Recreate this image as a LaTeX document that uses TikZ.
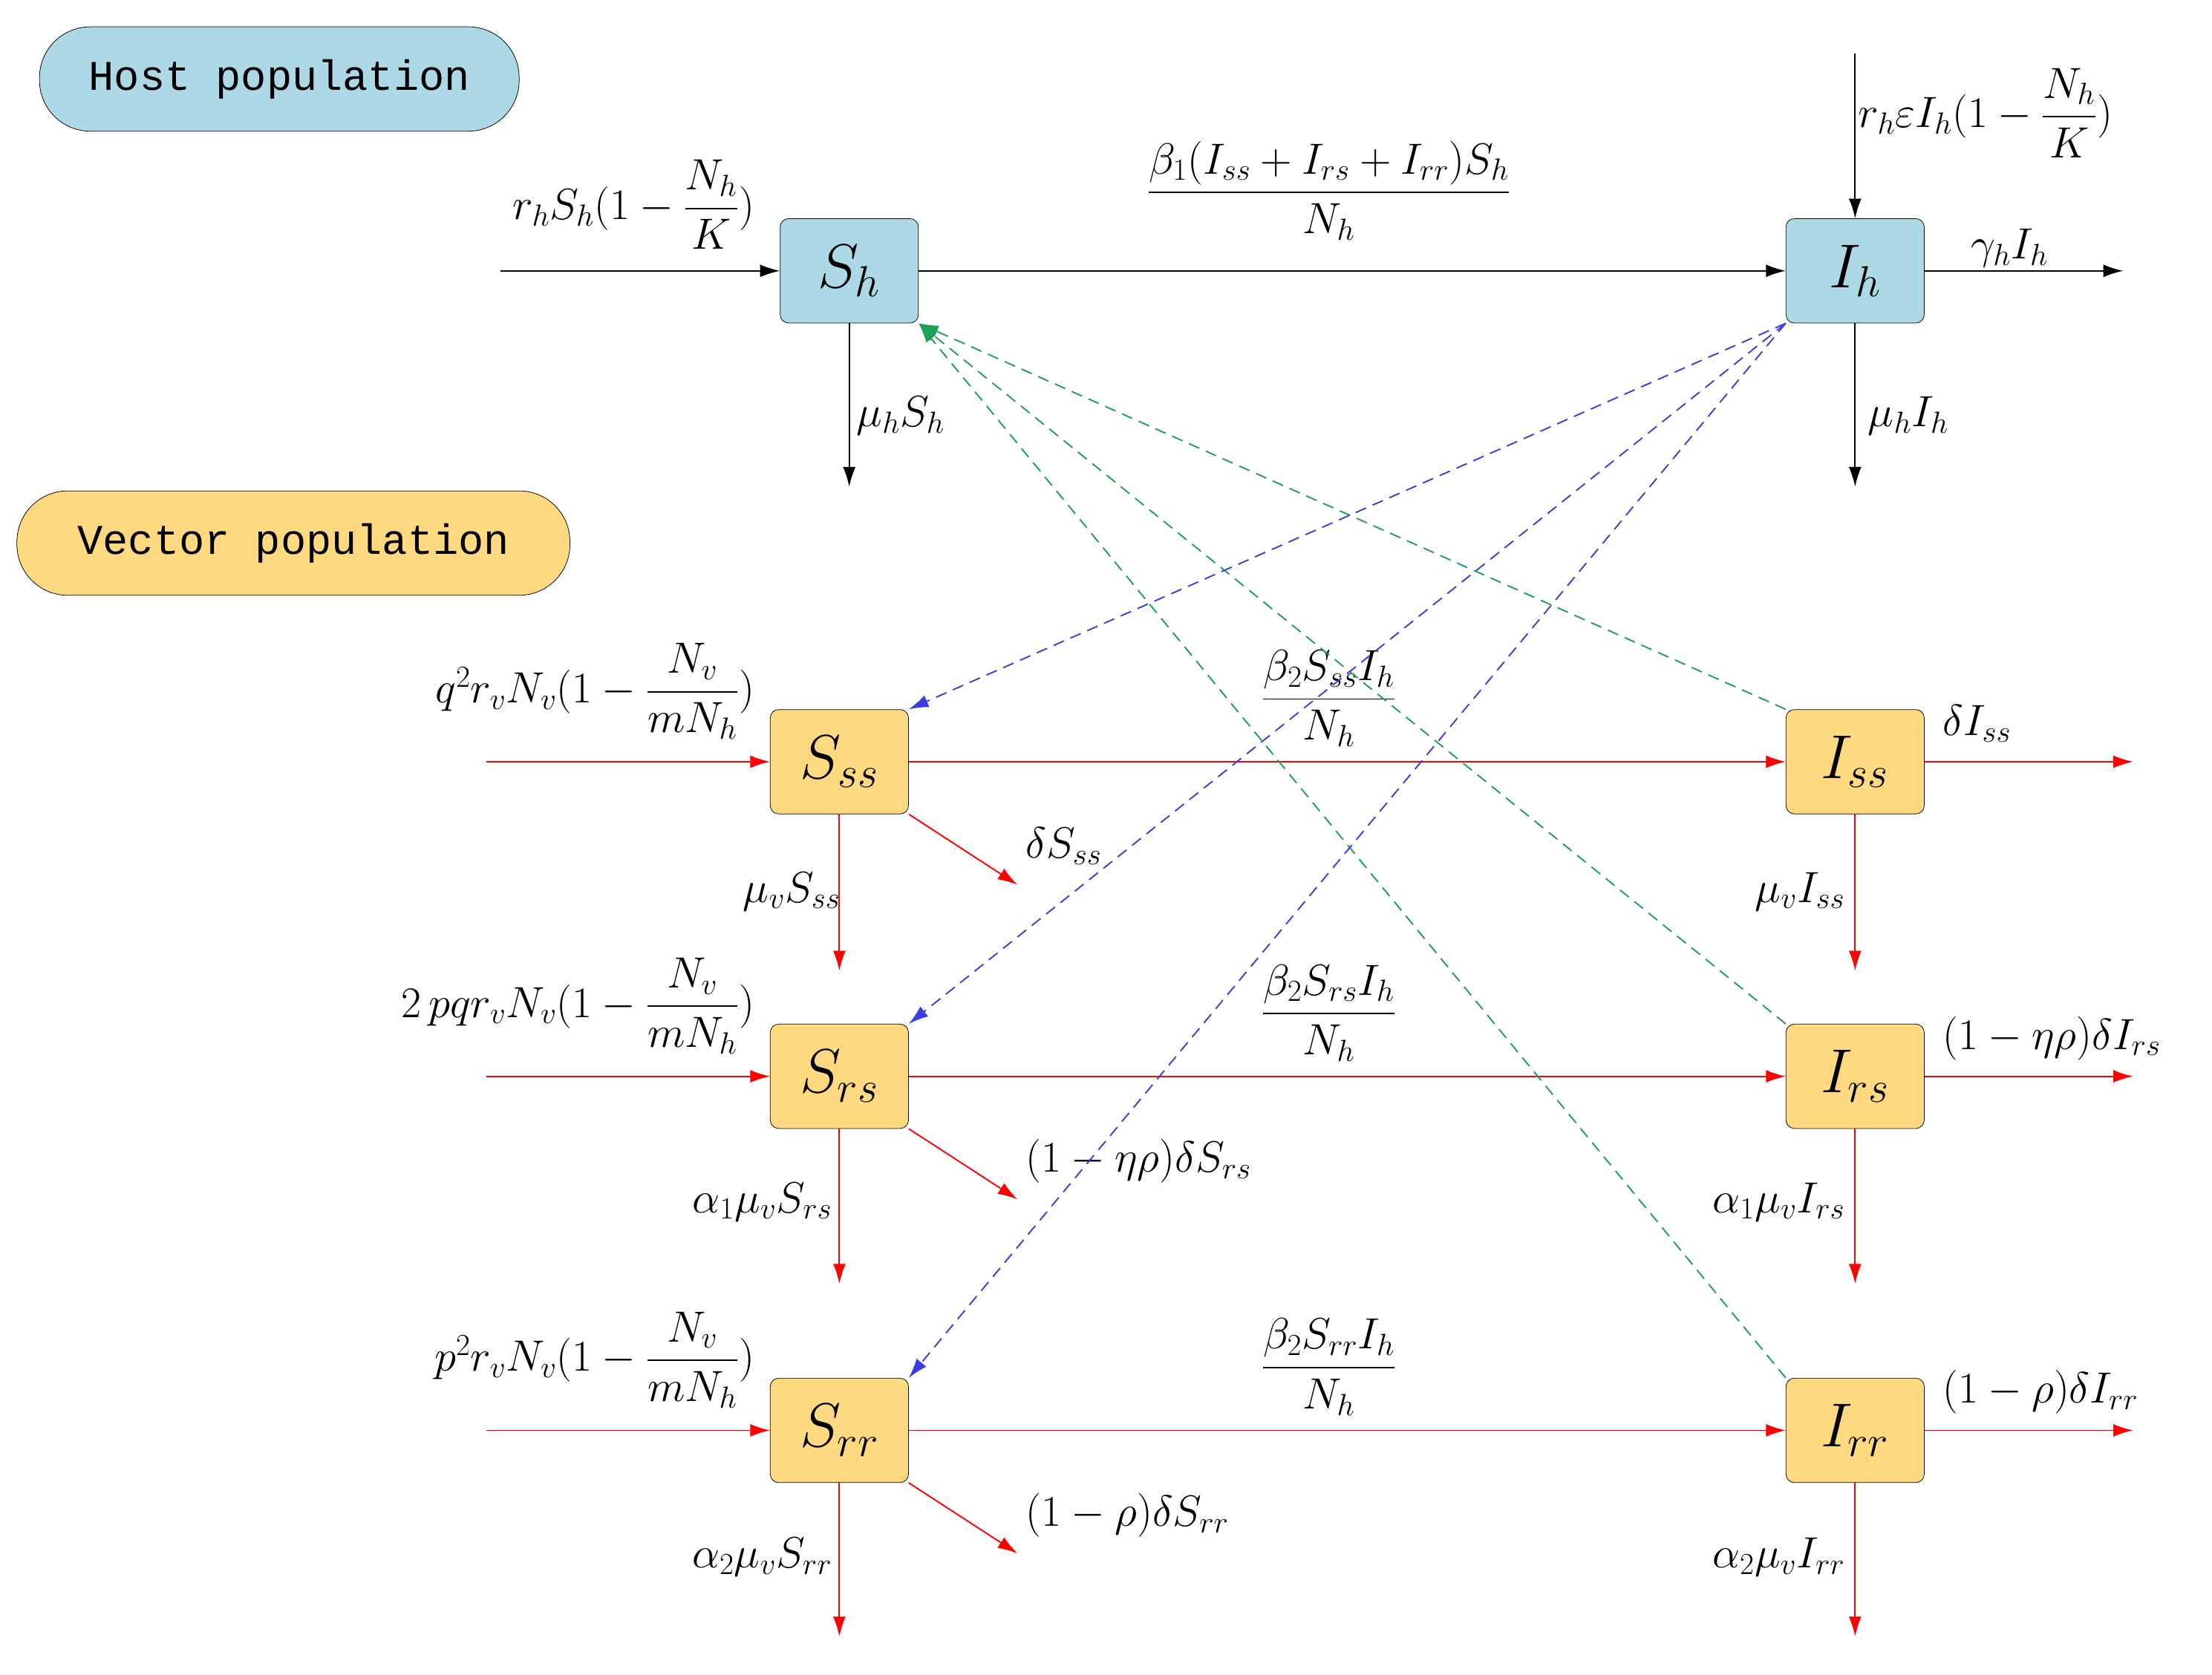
\RequirePackage{fix-cm}
\documentclass[tikz,border=0pt]{standalone}
\usepackage{amsmath}
\usepackage{fontspec}
\newfontfamily\monof{Liberation Mono}
\usetikzlibrary{arrows.meta}
\definecolor{hostblue}{RGB}{173,216,230}
\definecolor{vecorange}{RGB}{255,217,128}
\definecolor{dgreen}{RGB}{30,160,90}
\definecolor{dblue}{RGB}{60,60,230}
\begin{document}
\begin{tikzpicture}[x=1pt,y=-1pt,
  hbox/.style={draw,fill=hostblue,rounded corners=6pt,minimum width=98pt,minimum height=74pt,font=\fontsize{44}{48}\selectfont},
  vbox/.style={draw,fill=vecorange,rounded corners=6pt,minimum width=98pt,minimum height=74pt,font=\fontsize{44}{48}\selectfont},
  tag/.style={draw,rounded corners=36pt,minimum height=74pt,font=\monof\fontsize{30}{34}\selectfont},
  lab/.style={font=\fontsize{31}{35}\selectfont,inner sep=2pt},
  blk/.style={-{Latex[length=14pt,width=9pt]},line width=1pt},
  red/.style={-{Latex[length=14pt,width=9pt]},line width=1pt,draw=red},
  gdash/.style={-{Latex[length=14pt,width=9pt]},dash pattern=on 8pt off 5pt,draw=dgreen,line width=1pt},
  bdash/.style={-{Latex[length=14pt,width=9pt]},dash pattern=on 8pt off 5pt,draw=dblue,line width=1pt}]
\useasboundingbox (0,0) rectangle (1568,1187);
\node[tag,fill=hostblue,minimum width=340pt] (host) at (198,56) {Host population};
\node[tag,fill=vecorange,minimum width=392pt] (vec) at (208,385) {Vector population};

\node[hbox] (Sh) at (602,192) {$S_h$};
\node[hbox] (Ih) at (1315,192) {$I_h$};
\node[vbox] (Sss) at (595,540) {$S_{ss}$};
\node[vbox] (Iss) at (1315,540) {$I_{ss}$};
\node[vbox] (Srs) at (595,763) {$S_{rs}$};
\node[vbox] (Irs) at (1315,763) {$I_{rs}$};
\node[vbox] (Srr) at (595,1014) {$S_{rr}$};
\node[vbox] (Irr) at (1315,1014) {$I_{rr}$};

% host
\coordinate (shin) at (355,192);
\coordinate (ihin) at (1315,38);
\coordinate (ihout) at (1505,192);
\coordinate (shd) at (602,345);
\coordinate (ihd) at (1315,345);
\draw[blk] (shin) -- (Sh);
\draw[blk] (Sh) -- (Ih);
\draw[blk] (ihin) -- (Ih);
\draw[blk] (Ih) -- (ihout);
\draw[blk] (Sh) -- (shd);
\draw[blk] (Ih) -- (ihd);
\node[lab,anchor=east] at (537,145) {$r_hS_h(1-\dfrac{N_h}{K})$};
\node[lab] at (942,135) {$\dfrac{\beta_1(I_{ss}+I_{rs}+I_{rr})S_h}{N_h}$};
\node[lab,anchor=west] at (1315,80) {$r_h\varepsilon I_h(1-\dfrac{N_h}{K})$};
\node[lab,anchor=west] at (1395,176) {$\gamma_h I_h$};
\node[lab,anchor=west] at (605,295) {$\mu_h S_h$};
\node[lab,anchor=west] at (1322,295) {$\mu_h I_h$};

% vector rows
\foreach \S/\I/\y/\inlab/\mid/\outlab/\diag/\dy in {
  Sss/Iss/540/{q^2r_vN_v(1-\dfrac{N_v}{mN_h})}/{\dfrac{\beta_2S_{ss}I_h}{N_h}}/{\delta I_{ss}}/{\delta S_{ss}}/688,
  Srs/Irs/763/{2\,pqr_vN_v(1-\dfrac{N_v}{mN_h})}/{\dfrac{\beta_2S_{rs}I_h}{N_h}}/{(1-\eta\rho)\delta I_{rs}}/{(1-\eta\rho)\delta S_{rs}}/910,
  Srr/Irr/1014/{p^2r_vN_v(1-\dfrac{N_v}{mN_h})}/{\dfrac{\beta_2S_{rr}I_h}{N_h}}/{(1-\rho)\delta I_{rr}}/{(1-\rho)\delta S_{rr}}/1160}{
  \coordinate (in\S) at (345,\y);
  \coordinate (out\I) at (1512,\y);
  \draw[red] (in\S) -- (\S);
  \draw[red] (\S) -- (\I);
  \draw[red] (\I) -- (out\I);
  \draw[red] (\S.south) -- (\S.south |- 0,\dy);
  \draw[red] (\I.south) -- (\I.south |- 0,\dy);
  \draw[red] (\S.south east) -- ++(77,50);
  \node[lab,anchor=east] at (537,\y-50) {$\inlab$};
  \node[lab] at (942,\y-45) {$\mid$};
  \node[lab,anchor=west] at (1375,\y-27) {$\outlab$};
  \node[lab,anchor=west] at (725,\y+60) {$\diag$};
}
\node[lab,anchor=east] at (598,632) {$\mu_vS_{ss}$};
\node[lab,anchor=east] at (1310,632) {$\mu_vI_{ss}$};
\node[lab,anchor=east] at (592,852) {$\alpha_1\mu_vS_{rs}$};
\node[lab,anchor=east] at (1310,852) {$\alpha_1\mu_vI_{rs}$};
\node[lab,anchor=east] at (592,1104) {$\alpha_2\mu_vS_{rr}$};
\node[lab,anchor=east] at (1310,1104) {$\alpha_2\mu_vI_{rr}$};

% dashed
\draw[gdash] (Iss.north west) -- (Sh.south east);
\draw[gdash] (Irs.north west) -- (Sh.south east);
\draw[gdash] (Irr.north west) -- (Sh.south east);
\draw[bdash] (Ih.south west) -- (Sss.north east);
\draw[bdash] (Ih.south west) -- (Srs.north east);
\draw[bdash] (Ih.south west) -- (Srr.north east);
\end{tikzpicture}
\end{document}
